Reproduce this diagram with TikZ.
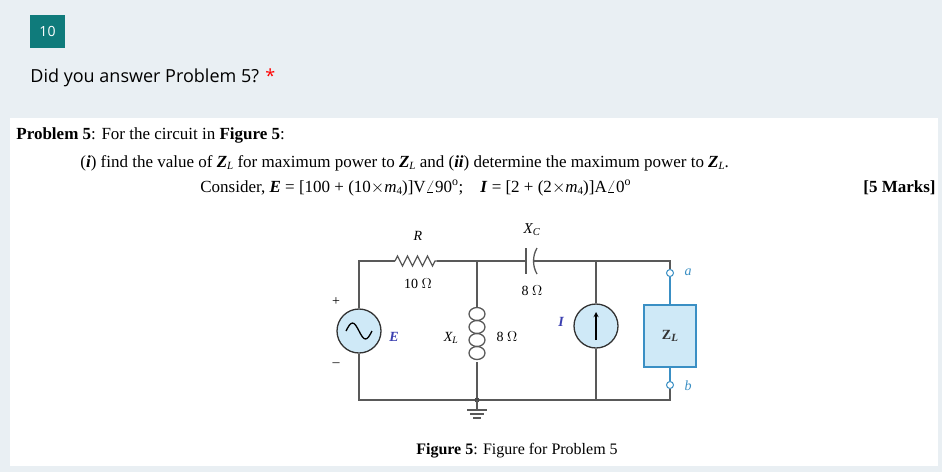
\documentclass[tikz,border=0pt]{standalone}
\usepackage{fontspec}
\setmainfont{Liberation Serif}
\newfontfamily\uifont{Open Sans}
\usepackage[dvipsnames]{xcolor}
\usetikzlibrary{positioning,decorations.pathmorphing}
\definecolor{panel}{HTML}{E9EFF3}
\definecolor{teal10}{HTML}{0F7B7B}
\definecolor{fillb}{HTML}{CFE9F7}
\definecolor{wireb}{HTML}{3A8FC4}
\definecolor{lblue}{HTML}{3B3FB0}
\newcommand{\lowsub}[1]{\raisebox{-2pt}{\fontsize{11}{11}\selectfont #1}}
\begin{document}
\begin{tikzpicture}[x=1pt,y=-1pt,thick,
    wire/.style={draw=black!65,line width=1.3pt},
    bwire/.style={draw=wireb,line width=1.3pt},
    src/.style={circle,draw=black!80,fill=fillb,line width=1.3pt,minimum size=44pt},
    term/.style={circle,draw=wireb,fill=white,line width=1pt,inner sep=0pt,minimum size=7pt},
    lbl/.style={font=\fontsize{14}{14}\selectfont},
    txt/.style={anchor=west,font=\fontsize{17}{19}\selectfont,inner sep=0pt}]

                \useasboundingbox (0,0) rectangle (942,472);
                \fill[panel] (0,0) rectangle (942,472);
                \fill[white] (10,118) rectangle (938,466);
                \fill[teal10] (30,15) rectangle (65,48);
                \node[text=white,font=\uifont\fontsize{14}{14}\selectfont] (num) at (47.5,31.5) {10};
                \node[txt,font=\uifont\fontsize{18}{20}\selectfont] (ask) at (30,78) {Did you answer Problem 5? \textcolor{red}{*}};

                \node[txt] (p1) at (16,135) {\textbf{Problem 5}: For the circuit in \textbf{Figure 5}:};
                \node[txt] (p2) at (80,163) {(\textbf{\textit{i}}) find the value of \textbf{\textit{Z}}\lowsub{\textit{L}} for maximum power to \textbf{\textit{Z}}\lowsub{\textit{L}} and (\textbf{\textit{ii}}) determine the maximum power to \textbf{\textit{Z}}\lowsub{\textit{L}}.};
                \node[txt] (p3) at (200,188) {Consider, \textbf{\textit{E}} = [100 + (10$\times$\textit{m}\lowsub{4})]V$\angle$90\textsuperscript{o};};
                \node[txt] (p4) at (480,188) {\textbf{\textit{I}} = [2 + (2$\times$\textit{m}\lowsub{4})]A$\angle$0\textsuperscript{o}};
                \node[txt,anchor=east] (p5) at (936,188) {\textbf{[5 Marks]}};

                % circuit
                \coordinate (tl) at (359,261);
                \coordinate (bl) at (359,400);
                \coordinate (r1) at (395,261);
                \coordinate (r2) at (437,261);
                \coordinate (n1) at (477,261);
                \coordinate (g1) at (477,400);
                \coordinate (c1) at (526,261);
                \coordinate (c2) at (533,261);
                \coordinate (t2) at (596,261);
                \coordinate (b2) at (596,400);
                \coordinate (t3) at (670,261);
                \coordinate (b3) at (670,400);
                \coordinate (l1) at (477,308);
                \coordinate (l2) at (477,362);

                \node[src] (E) at (359,331) {};
                \draw[line width=1.3pt] ([xshift=-13pt]E.center) sin ([xshift=-6.5pt,yshift=8pt]E.center) cos (E.center) sin ([xshift=6.5pt,yshift=-8pt]E.center) cos ([xshift=13pt]E.center);
                \node[src] (I) at (596,326) {};
                \draw[->,>=stealth,line width=1.3pt] ([yshift=-14pt]I.center) -- ([yshift=14pt]I.center);
                \node[draw=wireb,fill=fillb,line width=1.5pt,minimum width=52pt,minimum height=62pt,font=\fontsize{14}{14}\selectfont\bfseries,text=black!80] (ZL) at (670,336) {Z\lowsub{\textit{L}}};
                \node[term] (a) at (670,273) {};
                \node[term] (b) at (670,385) {};

                \draw[wire] (E.north) -- (tl) -- (r1);
                \draw[wire,decorate,decoration={zigzag,segment length=10pt,amplitude=5pt}] (r1) -- (r2);
                \draw[wire] (r2) -- (n1) -- (c1);
                \draw[wire] (c2) -- (t2) -- (t3) -- (a);
                \draw[wire] (526,248) -- (526,274);
                \draw[wire] (537,248) arc (150:210:26pt);
                \draw[wire] (E.south) -- (bl) -- (g1) -- (b2) -- (b3) -- (b);
                \draw[wire] (n1) -- (l1);
                \foreach \k in {0,1,2,3}
                    \draw[wire] (477,314+13*\k) ellipse [x radius=8pt, y radius=6.5pt];
                \draw[wire] (l2) -- (g1);
                \draw[wire] (t2) -- (I.north);
                \draw[wire] (I.south) -- (b2);
                \draw[bwire] (a) -- (ZL.north);
                \draw[bwire] (ZL.south) -- (b);
                \fill[black!70] (g1) circle (2.5pt);
                \draw[wire] (g1) -- (477,410);
                \draw[wire] (467,410) -- (487,410);
                \draw[wire] (470,414) -- (484,414);
                \draw[wire] (473,418) -- (481,418);

                \node[lbl,font=\fontsize{14}{14}\selectfont\itshape] (lR) at (418,236) {R};
                \node[lbl] (vR) at (418,284) {10 $\Omega$};
                \node[lbl,font=\fontsize{15}{15}\selectfont\itshape] (lC) at (532,230) {X\textsubscript{C}};
                \node[lbl] (vC) at (532,291) {8 $\Omega$};
                \node[lbl,font=\fontsize{14}{14}\selectfont\itshape] (lL) at (451,338) {X\textsubscript{L}};
                \node[lbl] (vL) at (507,337) {8 $\Omega$};
                \node[lbl,text=lblue,font=\fontsize{14}{14}\selectfont\bfseries\itshape] (lE) at (394,337) {E};
                \node[lbl,text=lblue,font=\fontsize{14}{14}\selectfont\bfseries\itshape] (lI) at (561,322) {I};
                \node[lbl] (plus) at (336,302) {+};
                \node[lbl] (minus) at (336,365) {--};
                \node[lbl,text=wireb,font=\fontsize{14}{14}\selectfont\itshape] (la) at (688,272) {a};
                \node[lbl,text=wireb,font=\fontsize{14}{14}\selectfont\itshape] (lb) at (688,386) {b};

                \node[font=\fontsize{16}{16}\selectfont] (cap) at (517,451) {\textbf{Figure 5}: Figure for Problem 5};
            \end{tikzpicture}
\end{document}
